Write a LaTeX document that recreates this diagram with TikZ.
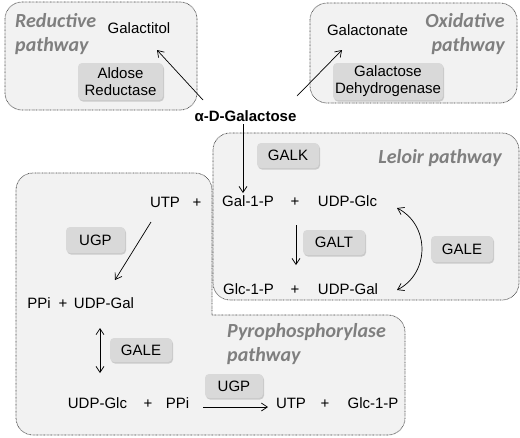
\documentclass[tikz,border=0pt]{standalone}
\usepackage{fontspec}
\setmainfont{Liberation Sans}
\newfontfamily\calib{Carlito}
\usetikzlibrary{arrows.meta,shadows}
\definecolor{boxfill}{HTML}{F2F2F2}
\definecolor{enzfill}{HTML}{D9D9D9}
\definecolor{pathgray}{HTML}{7F7F7F}
\definecolor{bordergray}{HTML}{404040}
\begin{document}
\begin{tikzpicture}[x=1pt,y=-1pt,
 regionfill/.style={fill=boxfill, rounded corners=17pt},
 regionline/.style={draw=bordergray, line width=0.7pt, dash pattern=on 0.7pt off 0.7pt, rounded corners=17pt},
 enz/.style={fill=enzfill, rounded corners=4pt, align=center, inner sep=0pt,
   drop shadow={opacity=0.35, shadow xshift=1pt, shadow yshift=-1.5pt},
   font=\fontsize{15}{17}\selectfont},
 lbl/.style={font=\fontsize{15}{18}\selectfont, inner sep=0pt, anchor=base},
 pw/.style={font=\calib\bfseries\itshape\fontsize{20}{24}\selectfont, text=pathgray, inner sep=0pt},
 arr/.style={-{Straight Barb[length=6pt,width=8pt]}, line width=0.7pt},
 darr/.style={{Straight Barb[length=6pt,width=8pt]}-{Straight Barb[length=6pt,width=8pt]}, line width=0.7pt}]
\useasboundingbox (0,0) rectangle (520,437);
% region fills
\fill[regionfill] (5,2) rectangle (197,110);
\fill[regionfill] (310,3) rectangle (517,103);
\fill[regionfill] (212,315) -- (212,173) -- (16,173) -- (16,435) -- (405,435) -- (405,315) -- (212,315);
\fill[regionfill] (213,133) rectangle (519,300);
% region borders
\draw[regionline] (5,2) rectangle (197,110);
\draw[regionline] (310,3) rectangle (517,103);
\draw[regionline] (212,315) -- (212,173) -- (16,173) -- (16,435) -- (405,435) -- (405,315) -- (212,315);
\draw[regionline] (213,133) rectangle (519,300);

% pathway labels
\node[pw, anchor=north west, align=left] (redlbl) at (15,13) {Reductive\\pathway};
\node[pw, anchor=north east, align=right] (oxlbl) at (505,13) {Oxidative\\pathway};
\node[pw, anchor=base east] (lellbl) at (502,163) {Leloir pathway};
\node[pw, anchor=north west, align=left] (pyrlbl) at (227,323) {Pyrophosphorylase\\pathway};

% enzymes
\node[enz, minimum width=85pt, minimum height=37pt] (aldose) at (120.5,81.5) {Aldose\\Reductase};
\node[enz, minimum width=110pt, minimum height=37pt] (galdh) at (388,81.5) {Galactose\\Dehydrogenase};
\node[enz, minimum width=62pt, minimum height=25pt] (galk) at (288,155.5) {GALK};
\node[enz, minimum width=62pt, minimum height=25pt] (galt) at (334,242.5) {GALT};
\node[enz, minimum width=62pt, minimum height=26pt] (gale1) at (462,249) {GALE};
\node[enz, minimum width=59pt, minimum height=26pt] (ugp1) at (95.5,240) {UGP};
\node[enz, minimum width=62pt, minimum height=24pt] (gale2) at (141,350) {GALE};
\node[enz, minimum width=58pt, minimum height=24pt] (ugp2) at (234,386) {UGP};

% metabolites
\node[lbl] (galactitol) at (139,33) {Galactitol};
\node[lbl] (galactonate) at (367.5,35) {Galactonate};
\node[lbl, font=\bfseries\fontsize{15}{18}\selectfont] (galactose) at (245.5,121) {α-D-Galactose};

\node[lbl] (gal1p) at (248,206) {Gal-1-P};
\node[lbl] (plusA) at (295,206) {+};
\node[lbl] (udpglcA) at (347.5,206) {UDP-Glc};
\node[lbl] (glc1pA) at (248.5,294) {Glc-1-P};
\node[lbl] (plusB) at (295,294) {+};
\node[lbl] (udpgalA) at (348,294) {UDP-Gal};

\node[lbl] (utpA) at (165,207) {UTP};
\node[lbl] (plusC) at (197,207) {+};
\node[lbl] (ppiA) at (39,308) {PPi};
\node[lbl] (plusD) at (63,308) {+};
\node[lbl] (udpgalB) at (104,308) {UDP-Gal};

\node[lbl] (udpglcB) at (97.5,408) {UDP-Glc};
\node[lbl] (plusE) at (148,408) {+};
\node[lbl] (ppiB) at (177.5,408) {PPi};
\node[lbl] (utpB) at (291,408) {UTP};
\node[lbl] (plusF) at (325,408) {+};
\node[lbl] (glc1pB) at (373,408) {Glc-1-P};

% connector end points
\coordinate (r1) at (203,100);
\coordinate (r2) at (157,50);
\coordinate (o1) at (297,96);
\coordinate (o2) at (342,50);
\coordinate (k1) at (243,124);
\coordinate (k2) at (243,193);
\coordinate (t1) at (296,225);
\coordinate (t2) at (296,265);
\coordinate (e1) at (397,208);
\coordinate (e2) at (397,290);
\coordinate (u1) at (151,222);
\coordinate (u2) at (115,280);
\coordinate (g1) at (100,328);
\coordinate (g2) at (100,373);
\coordinate (p1) at (203,407);
\coordinate (p2) at (268,407);

\draw[arr] (r1) -- (r2);
\draw[arr] (o1) -- (o2);
\draw[arr] (k1) -- (k2);
\draw[arr] (t1) -- (t2);
\draw[darr] (e1) .. controls (430,225) and (430,273) .. (e2);
\draw[arr] (u1) -- (u2);
\draw[darr] (g1) -- (g2);
\draw[arr] (p1) -- (p2);
\end{tikzpicture}
\end{document}
